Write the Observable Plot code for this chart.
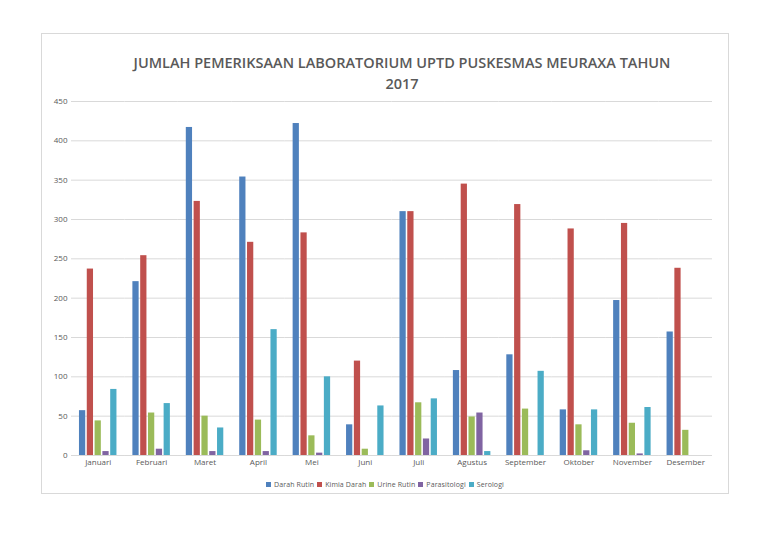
<!DOCTYPE html>
<html>
<head>
<meta charset="utf-8">
<script src="https://cdn.jsdelivr.net/npm/d3@7"></script>
<script src="https://cdn.jsdelivr.net/npm/@observablehq/plot@0.6"></script>
<style>
  html, body { margin: 0; padding: 0; background: #fff; }
  #page { position: relative; width: 768px; height: 543px; overflow: hidden; font-family: "Open Sans", "Liberation Sans", sans-serif; }
  #box { position: absolute; left: 41px; top: 33px; width: 686px; height: 459px; border: 1px solid #d9d9d9; }
  #title { position: absolute; left: 0; top: 52px; width: 804px; text-align: center; font-size: 14.5px; font-weight: 600; color: #595959; line-height: 21px; }
  #chart { position: absolute; left: 0; top: 0; }
  #legend { position: absolute; left: 0; top: 480px; width: 770px; text-align: center; font-size: 7px; color: #595959; letter-spacing: 0.1px; }
  #legend span.item { margin: 0 1.5px; white-space: nowrap; }
  #legend span.sw { display: inline-block; width: 5px; height: 5px; margin-right: 3px; vertical-align: 0px; }
</style>
</head>
<body>
<div id="page">
  <div id="box"></div>
  <div id="title">JUMLAH PEMERIKSAAN LABORATORIUM UPTD PUSKESMAS MEURAXA TAHUN<br>2017</div>
  <div id="chart"></div>
  <div id="legend"></div>
</div>
<script>
const months = ["Januari","Februari","Maret","April","Mei","Juni","Juli","Agustus","September","Oktober","November","Desember"];
const seriesNames = ["Darah Rutin","Kimia Darah","Urine Rutin","Parasitologi","Serologi"];
const darahRutin   = [57, 221, 417, 354, 422, 39, 310, 108, 128, 58, 197, 157];
const kimiaDarah   = [237, 254, 323, 271, 283, 120, 310, 345, 319, 288, 295, 238];
const urineRutin   = [44, 54, 50, 45, 25, 8, 67, 49, 59, 39, 41, 32];
const parasitologi = [5, 8, 5, 5, 3, 0, 21, 54, 0, 6, 2, 0];
const serologi     = [84, 66, 35, 160, 100, 63, 72, 5, 107, 58, 61, 0];
const yTicks = [0, 50, 100, 150, 200, 250, 300, 350, 400, 450];
const colors = ["#4f81bd", "#c0504d", "#9bbb59", "#8064a2", "#4bacc6"];

const seriesValues = [darahRutin, kimiaDarah, urineRutin, parasitologi, serologi];
const data = [];
months.forEach((m, i) => {
  seriesNames.forEach((s, j) => {
    data.push({month: m, series: s, value: seriesValues[j][i]});
  });
});

const chart = Plot.plot({
  width: 768,
  height: 475,
  marginLeft: 71,
  marginRight: 56,
  marginTop: 101,
  marginBottom: 20,
  style: {fontFamily: '"Open Sans", sans-serif', fontSize: "8px", color: "#595959", background: "transparent"},
  fx: {domain: months, padding: 0, round: false, label: null, axis: null},
  x: {domain: seriesNames, paddingInner: 0.2, paddingOuter: 1.02, round: false, axis: null},
  y: {domain: [0, 450], ticks: yTicks, axis: null},
  color: {domain: seriesNames, range: colors},
  marks: [
    Plot.gridY({ticks: yTicks, stroke: "#d9d9d9", strokeOpacity: 1}),
    Plot.axisY({ticks: yTicks, tickSize: 0, tickPadding: 4, label: null, fill: "#595959"}),
    Plot.axisFx({tickSize: 0, tickPadding: 4, label: null, fill: "#595959", anchor: "bottom"}),
    Plot.barY(data, {fx: "month", x: "series", y: "value", fill: "series"}),
    Plot.ruleY([0], {stroke: "#d9d9d9"})
  ]
});
document.getElementById("chart").appendChild(chart);

const legend = document.getElementById("legend");
seriesNames.forEach((s, i) => {
  const item = document.createElement("span");
  item.className = "item";
  const sw = document.createElement("span");
  sw.className = "sw";
  sw.style.background = colors[i];
  item.appendChild(sw);
  item.appendChild(document.createTextNode(s));
  legend.appendChild(item);
});
</script>
</body>
</html>
